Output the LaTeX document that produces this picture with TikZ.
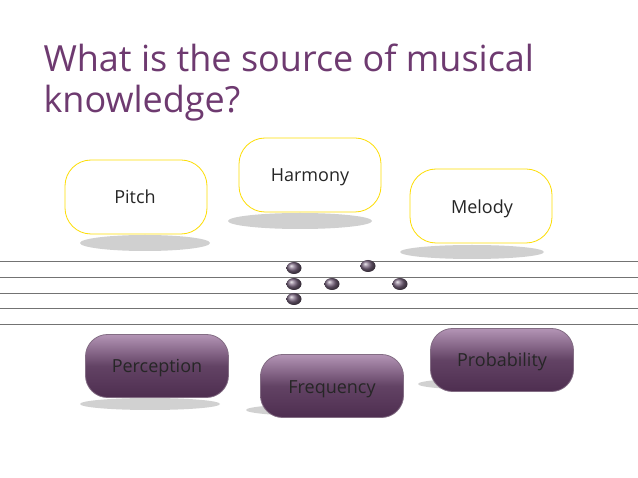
\documentclass[tikz,border=0pt]{standalone}
\usepackage{fontspec}
\setmainfont{Open Sans}
\usetikzlibrary{shadings}
\definecolor{ttl}{HTML}{6E3A70}
\definecolor{pdark}{HTML}{4E2E50}
\definecolor{plight}{HTML}{B394B5}
\definecolor{notec}{HTML}{7A6680}
\begin{document}
\begin{tikzpicture}[x=1pt,y=-1pt,
  wpill/.style={draw=yellow!80!orange,line width=0.8pt,fill=white,rounded corners=26pt,minimum width=142pt,minimum height=74pt},
  dpill/.style={draw=pdark!70,line width=0.8pt,top color=plight,bottom color=pdark,middle color=pdark!80!plight,rounded corners=22pt,minimum width=143pt,minimum height=63pt},
  lbl/.style={font=\fontsize{18}{22}\selectfont,text=black!85},
  shad/.style={fill=black!30,opacity=0.6},
  note/.style={ball color=notec,draw=none},
  staff/.style={draw=black!55,line width=0.6pt}]
\useasboundingbox (0,0) rectangle (638,478);
\fill[white] (0,0) rectangle (638,478);
\node[anchor=base west,text=ttl,font=\fontsize{36}{44}\selectfont] (title) at (40,72) {What is the source of musical};
\node[anchor=base west,text=ttl,font=\fontsize{36}{44}\selectfont] (title2) at (40,113) {knowledge?};
% shadows
\fill[shad] (145,243) ellipse (65 and 8);
\fill[shad] (300,221) ellipse (72 and 8);
\fill[shad] (472,252) ellipse (72 and 7);
\fill[black!18] (150,404) ellipse (70 and 6);
\fill[black!18] (318,410) ellipse (72 and 6);
\fill[black!18] (490,384) ellipse (72 and 6);
% staff
\foreach \y in {261,277,293,308,324} \draw[staff] (0,\y) -- (638,\y);
\foreach \p in {(294,268),(294,284),(294,299),(332,284),(368,266),(400,284)}
  \shade[note] \p ellipse (7.5 and 6);
\node[wpill] (pitch) at (136,197) {};
\node[wpill] (harmony) at (310,175) {};
\node[wpill] (melody) at (481,206) {};
\node[dpill] (perception) at (157,366) {};
\node[dpill] (frequency) at (332,386) {};
\node[dpill] (probability) at (502,360) {};
\node[lbl] (tpitch) at (135,197) {Pitch};
\node[lbl] (tharmony) at (310,177) {Harmony};
\node[lbl] (tmelody) at (482,209) {Melody};
\node[lbl] (tperception) at (157,368) {Perception};
\node[lbl] (tfrequency) at (332,389) {Frequency};
\node[lbl] (tprobability) at (502,362) {Probability};
\end{tikzpicture}
\end{document}
